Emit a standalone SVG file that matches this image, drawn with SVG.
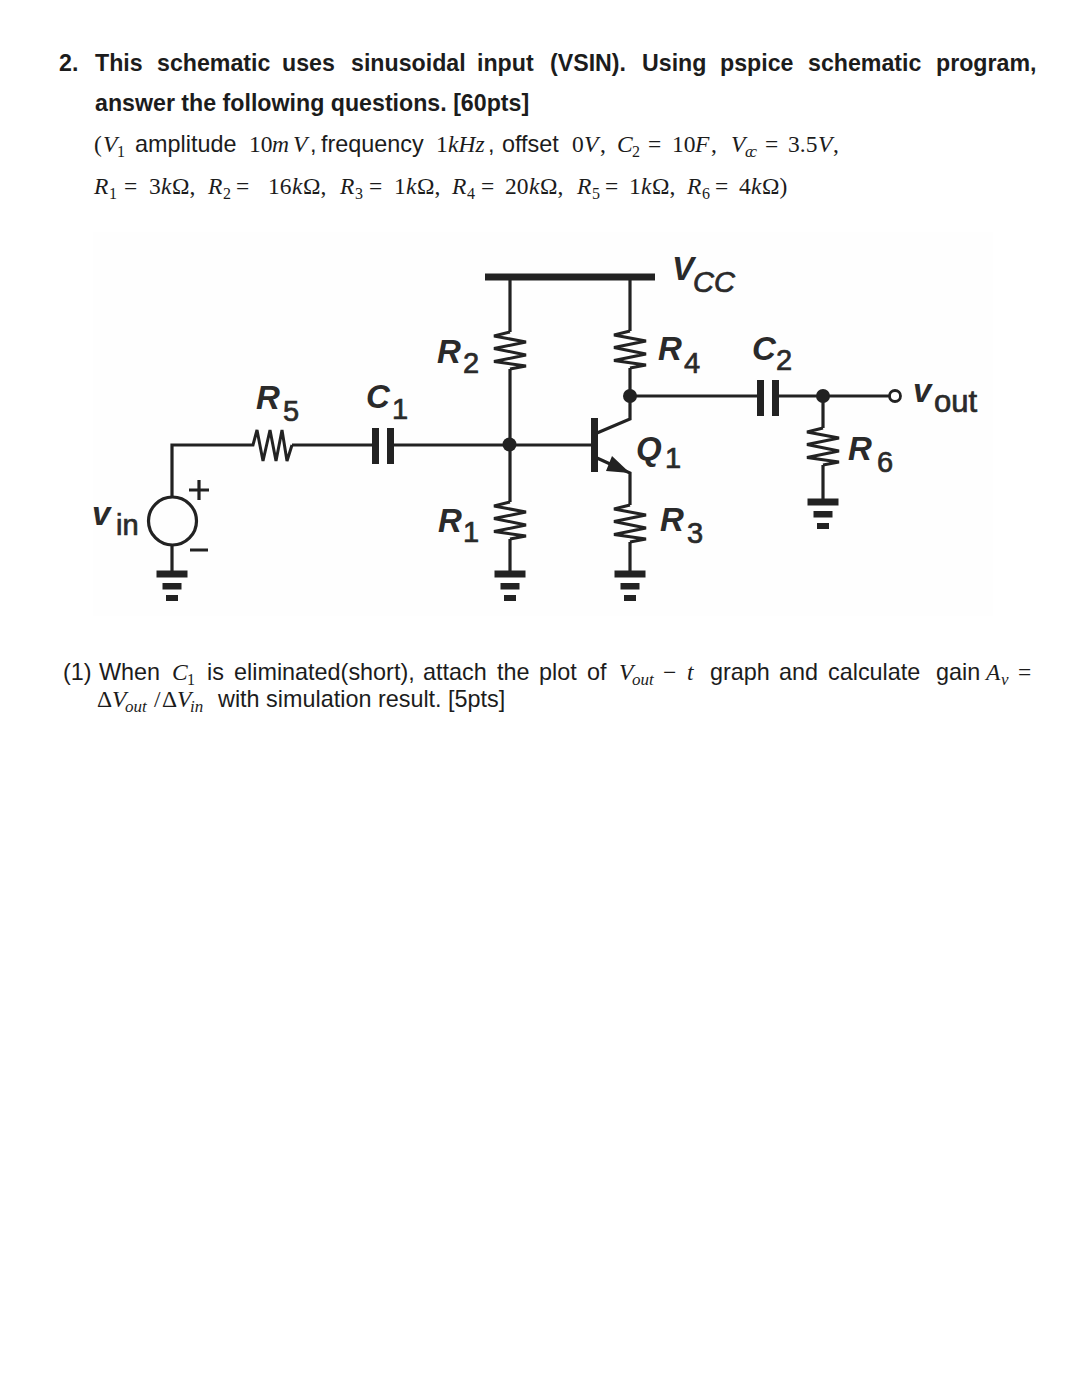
<svg xmlns="http://www.w3.org/2000/svg" xmlns:xlink="http://www.w3.org/1999/xlink" width="1075" height="1386" viewBox="0 0 1075 1386">
<style>
text{font-family:"Liberation Sans",Arial,sans-serif;fill:#1c1c1c}
.b{font-size:23.2px;font-weight:bold}
.r{font-size:23.4px}
.m{font-family:"Liberation Serif","Times New Roman",serif;font-size:23.5px}
.i{font-family:"Liberation Serif","Times New Roman",serif;font-size:23.5px;font-style:italic}
.s{font-family:"Liberation Serif","Times New Roman",serif;font-size:16px}
.si{font-family:"Liberation Serif","Times New Roman",serif;font-size:17px;font-style:italic}
.L{font-size:33px;font-weight:bold;font-style:italic;fill:#2a2a2a}
.N{font-size:29px;fill:#2a2a2a;stroke:#2a2a2a;stroke-width:.7px}
.w{fill:none;stroke:#222;stroke-width:3.2;stroke-linejoin:miter}
.z{fill:none;stroke:#222;stroke-width:3;stroke-linejoin:miter}
.f{fill:#222;stroke:none}
</style>
<defs>
<path id="rv" class="z" d="M0 0L-16 4 16 10-16 16.500 16 23-16 29.500 16 34 0 37"/>
<g id="gnd"><rect class="f" x="-15.500" y="-3.500" width="31" height="7"/><rect class="f" x="-9.500" y="9" width="19" height="6.500"/><rect class="f" x="-6" y="21" width="12" height="6"/></g>
</defs>
<rect width="1075" height="1386" fill="#ffffff"/>
<rect x="93" y="232" width="900" height="384" fill="#fefefe"/>

<g id="question-text">
<text class="b" x="59" y="71">2.</text>
<text class="b" y="71"><tspan x="95">This</tspan><tspan x="157">schematic</tspan><tspan x="282">uses</tspan><tspan x="351">sinusoidal</tspan><tspan x="477">input</tspan><tspan x="550">(VSIN).</tspan><tspan x="642">Using</tspan><tspan x="720">pspice</tspan><tspan x="808">schematic</tspan><tspan x="936">program,</tspan></text>
<text class="b" x="95" y="111">answer the following questions. [60pts]</text>
</g>

<g id="parameters-line-1">
<text class="m" x="94" y="152">(</text><text class="i" x="103" y="152">V</text><text class="s" x="117" y="157">1</text>
<text class="r" x="135" y="152">amplitude</text>
<text class="m" x="249" y="152">10</text><text class="i" x="272" y="152">m</text><text class="i" x="293" y="152">V</text><text class="r" x="310" y="152">,</text>
<text class="r" x="321" y="152">frequency</text>
<text class="m" x="436" y="152">1</text><text class="i" x="448" y="152">kHz</text><text class="r" x="488" y="152">,</text>
<text class="r" x="502" y="152">offset</text>
<text class="m" x="572" y="152">0</text><text class="i" x="584" y="152">V</text><text class="m" x="600" y="152">,</text>
<text class="i" x="617" y="152">C</text><text class="s" x="632" y="157">2</text><text class="m" x="648" y="152">=</text><text class="m" x="672" y="152">10</text><text class="i" x="695" y="152">F</text><text class="m" x="711" y="152">,</text>
<text class="i" x="731" y="152">V</text><text class="si" x="745" y="157" letter-spacing="-3">cc</text><text class="m" x="765" y="152">=</text><text class="m" x="788" y="152">3.5</text><text class="i" x="818" y="152">V</text><text class="m" x="833" y="152">,</text>
</g>

<g id="parameters-line-2">
<text class="i" x="94" y="194">R</text><text class="s" x="109" y="199">1</text><text class="m" x="124" y="194">=</text><text class="m" x="149" y="194">3</text><text class="i" x="161" y="194">k</text><text class="m" x="172" y="194">Ω,</text>
<text class="i" x="208" y="194">R</text><text class="s" x="223" y="199">2</text><text class="m" x="236" y="194">=</text><text class="m" x="268" y="194">16</text><text class="i" x="292" y="194">k</text><text class="m" x="303" y="194">Ω,</text>
<text class="i" x="340" y="194">R</text><text class="s" x="355" y="199">3</text><text class="m" x="369" y="194">=</text><text class="m" x="394" y="194">1</text><text class="i" x="406" y="194">k</text><text class="m" x="417" y="194">Ω,</text>
<text class="i" x="452" y="194">R</text><text class="s" x="467" y="199">4</text><text class="m" x="481" y="194">=</text><text class="m" x="505" y="194">20</text><text class="i" x="529" y="194">k</text><text class="m" x="540" y="194">Ω,</text>
<text class="i" x="577" y="194">R</text><text class="s" x="592" y="199">5</text><text class="m" x="605" y="194">=</text><text class="m" x="629" y="194">1</text><text class="i" x="641" y="194">k</text><text class="m" x="652" y="194">Ω,</text>
<text class="i" x="687" y="194">R</text><text class="s" x="702" y="199">6</text><text class="m" x="715" y="194">=</text><text class="m" x="739" y="194">4</text><text class="i" x="751" y="194">k</text><text class="m" x="762" y="194">Ω)</text>
</g>

<g id="connectors">
<path class="w" d="M172 497V445H245"/>
<path class="w" d="M292 445H374"/>
<path class="w" d="M390 445H592"/>
<path class="w" d="M172 545V572"/>
<path class="w" d="M510 277V332"/>
<path class="w" d="M510 369V502"/>
<path class="w" d="M510 539V572"/>
<path class="w" d="M630 277V331"/>
<path class="w" d="M630 368V419L597 433"/>
<path class="w" d="M630 396H760"/>
<path class="w" d="M776 396H889"/>
<path class="w" d="M823 396V428"/>
<path class="w" d="M823 465V502"/>
<path class="w" d="M597 458L630 473V505"/>
<path class="w" d="M630 542V572"/>
</g>

<g id="vcc"><rect class="f" x="485" y="273.500" width="170" height="7"/><text class="L" x="672" y="280">V</text><text class="N" x="693" y="292" font-style="italic">CC</text></g>
<g id="vin"><circle cx="172.500" cy="521" r="24" fill="none" stroke="#222" stroke-width="3.200"/><path class="w" d="M189 490H209M199 480V500M190 550H208"/><text class="L" x="92" y="525">v</text><text class="N" x="116" y="535">in</text></g>
<g id="r5"><path class="z" d="M245 445H253L257 430 263 461 270 430 276 461 282 430 287 461 292 445"/><text class="L" x="256" y="409">R</text><text class="N" x="283" y="421">5</text></g>
<g id="c1"><rect class="f" x="372" y="428" width="7" height="36"/><rect class="f" x="387" y="428" width="7" height="36"/><text class="L" x="366" y="408">C</text><text class="N" x="392" y="419">1</text></g>
<g id="r2"><use href="#rv" x="510" y="332"/><text class="L" x="437" y="363">R</text><text class="N" x="463" y="373">2</text></g>
<g id="r1"><use href="#rv" x="510" y="502"/><text class="L" x="438" y="532">R</text><text class="N" x="463" y="542">1</text></g>
<g id="r4"><use href="#rv" x="630" y="331"/><text class="L" x="658" y="360">R</text><text class="N" x="684" y="373">4</text></g>
<g id="r3"><use href="#rv" x="630" y="505"/><text class="L" x="660" y="531">R</text><text class="N" x="687" y="543">3</text></g>
<g id="r6"><use href="#rv" x="823" y="428"/><text class="L" x="848" y="460">R</text><text class="N" x="877" y="472">6</text></g>
<g id="q1"><rect class="f" x="591" y="418" width="7" height="54"/><path class="f" d="M630 473L612 456 606 471Z"/><text class="L" x="636" y="460">Q</text><text class="N" x="665" y="468">1</text></g>
<g id="c2"><rect class="f" x="757" y="380" width="7" height="36"/><rect class="f" x="772" y="380" width="7" height="36"/><text class="L" x="752" y="360">C</text><text class="N" x="776" y="370">2</text></g>
<g id="vout"><circle cx="895" cy="396" r="5.500" fill="#fff" stroke="#222" stroke-width="2.800"/><text class="L" x="913" y="402">v</text><text class="N" x="934" y="412" style="font-size:31px">out</text></g>
<g id="junctions"><circle class="f" cx="509.500" cy="444.500" r="7"/><circle class="f" cx="630" cy="396" r="7"/><circle class="f" cx="823" cy="396" r="7"/></g>
<g id="grounds"><use href="#gnd" x="172" y="574"/><use href="#gnd" x="510" y="574"/><use href="#gnd" x="630" y="574"/><use href="#gnd" x="823" y="502"/></g>

<g id="sub-question">
<text class="r" y="680"><tspan x="63">(1)</tspan><tspan x="99">When</tspan></text>
<text class="i" x="172" y="680">C</text><text class="s" x="187" y="685">1</text>
<text class="r" y="680"><tspan x="207">is</tspan><tspan x="234">eliminated(short),</tspan><tspan x="423">attach</tspan><tspan x="497">the</tspan><tspan x="539">plot</tspan><tspan x="587">of</tspan></text>
<text class="i" x="619" y="680">V</text><text class="si" x="632" y="685">out</text>
<text class="m" x="663" y="680">−</text><text class="i" x="687" y="680">t</text>
<text class="r" y="680"><tspan x="710">graph</tspan><tspan x="779">and</tspan><tspan x="828">calculate</tspan><tspan x="936">gain</tspan></text>
<text class="i" x="986" y="680">A</text><text class="si" x="1001" y="685">v</text><text class="m" x="1018" y="680">=</text>
<text class="m" x="97" y="707">Δ</text><text class="i" x="112" y="707">V</text><text class="si" x="125" y="712">out</text><text class="m" x="154" y="707">/</text><text class="m" x="162" y="707">Δ</text><text class="i" x="177" y="707">V</text><text class="si" x="190" y="712">in</text>
<text class="r" x="218" y="707">with simulation result. [5pts]</text>
</g>
</svg>
